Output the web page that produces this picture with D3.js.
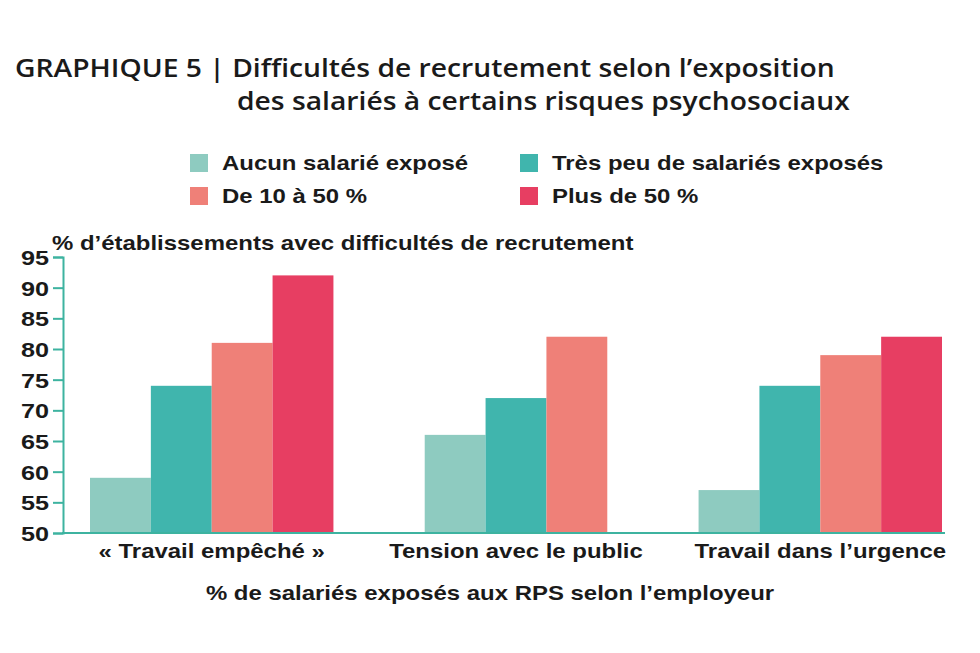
<!DOCTYPE html><html><head><meta charset="utf-8"><script src="https://cdn.jsdelivr.net/npm/d3@7"></script>
<style>body{margin:0;background:#fff}</style></head><body><svg id="c" width="980" height="653"></svg>
<script>
const categories=["« Travail empêché »","Tension avec le public","Travail dans l’urgence"];
const seriesNames=["Aucun salarié exposé","Très peu de salariés exposés","De 10 à 50 %","Plus de 50 %"];
const colors=["#8ecbc0","#40b5ad","#ef8078","#e73e62"];
const values=[[59,74,81,92],[66,72,82,null],[57,74,79,82]];
const yTicks=[50,55,60,65,70,75,80,85,90,95];
const svg=d3.select("#c");
const F="'Liberation Sans',Arial,sans-serif";
const TF="'Open Sans',sans-serif";
function stretch(sel,k){sel.each(function(){const w=this.getComputedTextLength();d3.select(this).attr("textLength",w*k).attr("lengthAdjust","spacingAndGlyphs");});}
const t1=svg.append("text").attr("x",15).attr("y",77).attr("font-family",TF).attr("font-weight",600).attr("font-size",25).attr("fill","#1a1a1a").text("GRAPHIQUE 5 | Difficultés de recrutement selon l’exposition");
const t2=svg.append("text").attr("x",237).attr("y",110).attr("font-family",TF).attr("font-weight",600).attr("font-size",25).attr("fill","#1a1a1a").text("des salariés à certains risques psychosociaux");
stretch(t1,1.13);stretch(t2,1.13);
const lp=[[190,163],[520,163],[190,196],[520,196]];
seriesNames.forEach((n,i)=>{
 svg.append("rect").attr("x",lp[i][0]).attr("y",lp[i][1]-9).attr("width",18).attr("height",18).attr("fill",colors[i]);
 stretch(svg.append("text").attr("x",lp[i][0]+32).attr("y",lp[i][1]+7).attr("font-family",F).attr("font-weight",700).attr("font-size",21).attr("fill","#1a1a1a").text(n),1.14);
});
const y=d3.scaleLinear().domain([50,95]).range([533,257]);
const x0=d3.scaleBand().domain(categories).range([90,942]).paddingInner(0.2).paddingOuter(0);
const x1=d3.scaleBand().domain(d3.range(4)).range([0,x0.bandwidth()]);
const ax=svg.append("g").attr("transform","translate(63,0)").call(d3.axisLeft(y).tickValues(yTicks).tickSize(10).tickPadding(4));
ax.select(".domain").attr("stroke","#3db3a0").attr("stroke-width",2);
ax.selectAll(".tick line").attr("stroke","#3db3a0").attr("stroke-width",2);
ax.selectAll("text").attr("font-family",F).attr("font-weight",700).attr("font-size",21).attr("fill","#1a1a1a").attr("dy","0.35em");
stretch(ax.selectAll("text"),1.2);
const g=svg.append("g");
categories.forEach((c,ci)=>{
 const n=values[ci].filter(v=>v!=null).length;
 const off=(4-n)*x1.bandwidth()/2;
 values[ci].forEach((v,si)=>{ if(v==null)return;
  g.append("rect").attr("x",x0(c)+off+x1(si)).attr("y",y(v)).attr("width",x1.bandwidth()).attr("height",y(50)-y(v)).attr("fill",colors[si]);});
 stretch(svg.append("text").attr("x",x0(c)+x0.bandwidth()/2).attr("y",558).attr("text-anchor","middle").attr("font-family",F).attr("font-weight",700).attr("font-size",21).attr("fill","#1a1a1a").text(c),1.14);
});
svg.append("line").attr("x1",62).attr("x2",945).attr("y1",533).attr("y2",533).attr("stroke","#3db3a0").attr("stroke-width",2);
stretch(svg.append("text").attr("x",52).attr("y",250).attr("font-family",F).attr("font-weight",700).attr("font-size",21).attr("fill","#1a1a1a").text("% d’établissements avec difficultés de recrutement"),1.14);
stretch(svg.append("text").attr("x",490).attr("y",600).attr("text-anchor","middle").attr("font-family",F).attr("font-weight",700).attr("font-size",21).attr("fill","#1a1a1a").text("% de salariés exposés aux RPS selon l’employeur"),1.14);
</script></body></html>
